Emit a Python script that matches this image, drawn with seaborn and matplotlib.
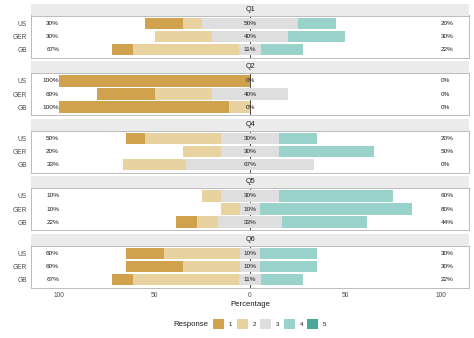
import numpy as np
import pandas as pd
import matplotlib
matplotlib.use("Agg")
import matplotlib.pyplot as plt
from matplotlib.patches import Rectangle
import seaborn as sns

# ---------------- data ----------------
questions = ['Q1', 'Q2', 'Q4', 'Q5', 'Q6']
countries = ['US', 'GER', 'GB']
responses = ['1', '2', '3', '4', '5']
# percentages, question-major / country-minor order
resp1 = [20, 0, 11.1,   100, 30, 88.9,   10, 0, 0,      0, 0, 11.1,    20, 30, 11.1]
resp2 = [10, 30, 55.6,  0, 30, 11.1,     40, 20, 33.3,  10, 10, 11.1,  40, 30, 55.6]
resp3 = [50, 40, 11.1,  0, 40, 0,        30, 30, 66.7,  30, 10, 33.3,  10, 10, 11.1]
resp4 = [20, 30, 22.2,  0, 0, 0,         20, 50, 0,     60, 80, 44.4,  30, 30, 22.2]
resp5 = [0, 0, 0,       0, 0, 0,         0, 0, 0,       0, 0, 0,       0, 0, 0]
x_ticks = [-100, -50, 0, 50, 100]
x_tick_labels = ['100', '50', '0', '50', '100']
palette = ['#D0A24E', '#E8D3A0', '#DEDEDE', '#98D2CA', '#4AA898']

df = pd.DataFrame({
    'question': np.repeat(questions, len(countries)),
    'country': countries * len(questions),
    '1': resp1, '2': resp2, '3': resp3, '4': resp4, '5': resp5,
})
half = df['3'] / 2
df['s1'] = -(half + df['2'] + df['1'])
df['s2'] = -(half + df['2'])
df['s3l'] = -half
df['s5'] = half + df['4'] + df['5']
df['s4'] = half + df['4']
df['s3r'] = half
df['low'] = df['1'] + df['2']
df['high'] = df['4'] + df['5']

layers = [('s1', '1', 0), ('s2', '2', 1), ('s5', '5', 4), ('s4', '4', 3),
          ('s3l', '3', 2), ('s3r', '3', 2)]

# ---------------- style ----------------
sns.set_style('white')
plt.rcParams['font.family'] = ['Liberation Sans', 'DejaVu Sans']

W, H = 474, 338
fig = plt.figure(figsize=(W / 100, H / 100), dpi=100)


def fx(px):
    return px / W


def fy(py):
    return 1 - py / H


x_left, x_right = 31, 469
xlim = (-114.7, 114.7)
txt_col = '#1A1A1A'
lab_col = '#4D4D4D'

for i, q in enumerate(questions):
    s_top = 3.5 + 57.5 * i
    p_top = 15.5 + 57.5 * i
    p_bot = 57.5 + 57.5 * i
    # strip
    sax = fig.add_axes([fx(x_left), fy(p_top), fx(x_right - x_left), (p_top - s_top) / H])
    sax.set_facecolor('#EBEBEB')
    for sp in sax.spines.values():
        sp.set_visible(False)
    sax.set_xticks([]); sax.set_yticks([])
    sax.text(0.5, 0.5, q, ha='center', va='center', fontsize=5.2, color=txt_col,
             transform=sax.transAxes)
    # panel
    ax = fig.add_axes([fx(x_left), fy(p_bot), fx(x_right - x_left), (p_bot - p_top) / H])
    sub = df[df['question'] == q]
    ax.axvline(0, color='#333333', lw=0.6, zorder=0)
    for col, rcol, ci in layers:
        part = sub[sub[rcol] > 0]
        if len(part) == 0:
            continue
        sns.barplot(data=part, x=col, y='country', order=countries, color=palette[ci],
                    saturation=1, width=0.85, errorbar=None, orient='h', ax=ax,
                    linewidth=0, edgecolor='none')
    for j, c in enumerate(countries):
        row = sub[sub['country'] == c].iloc[0]
        ax.text(-100, j, f"{round(row['low'])}%", ha='right', va='center',
                fontsize=4.6, color=txt_col)
        ax.text(0, j, f"{round(row['3'])}%", ha='center', va='center',
                fontsize=4.6, color=txt_col)
        ax.text(100, j, f"{round(row['high'])}%", ha='left', va='center',
                fontsize=4.6, color=txt_col)
    ax.set_xlim(*xlim)
    ax.set_ylim(2.615, -0.615)
    ax.set_ylabel('')
    ax.set_xlabel('')
    ax.set_yticks(range(len(countries)))
    ax.set_yticklabels(countries)
    ax.tick_params(axis='y', length=0, pad=3, labelsize=4.8, labelcolor=lab_col)
    ax.set_xticks(x_ticks)
    for sp in ax.spines.values():
        sp.set_visible(True)
        sp.set_color('#BBBBBB')
        sp.set_linewidth(0.7)
    if i == len(questions) - 1:
        ax.set_xticklabels(x_tick_labels)
        ax.tick_params(axis='x', length=1.5, width=0.5, color='#333333', pad=1.5,
                       labelsize=4.8, labelcolor=lab_col)
        ax.set_xlabel('Percentage', fontsize=5.6, color=txt_col, labelpad=2)
    else:
        ax.tick_params(axis='x', length=0, labelbottom=False)

# ---------------- legend ----------------
fig.text(fx(208), fy(324), 'Response', ha='right', va='center', fontsize=5.6, color=txt_col)
for k, r in enumerate(responses):
    bx = 213 + 23.5 * k
    fig.patches.append(Rectangle((fx(bx), fy(329)), fx(11), 10 / H, transform=fig.transFigure,
                                 facecolor=palette[k], edgecolor='none'))
    fig.text(fx(bx + 16), fy(324), r, ha='left', va='center', fontsize=4.4, color=txt_col)

fig.savefig('out.png', dpi=100)
